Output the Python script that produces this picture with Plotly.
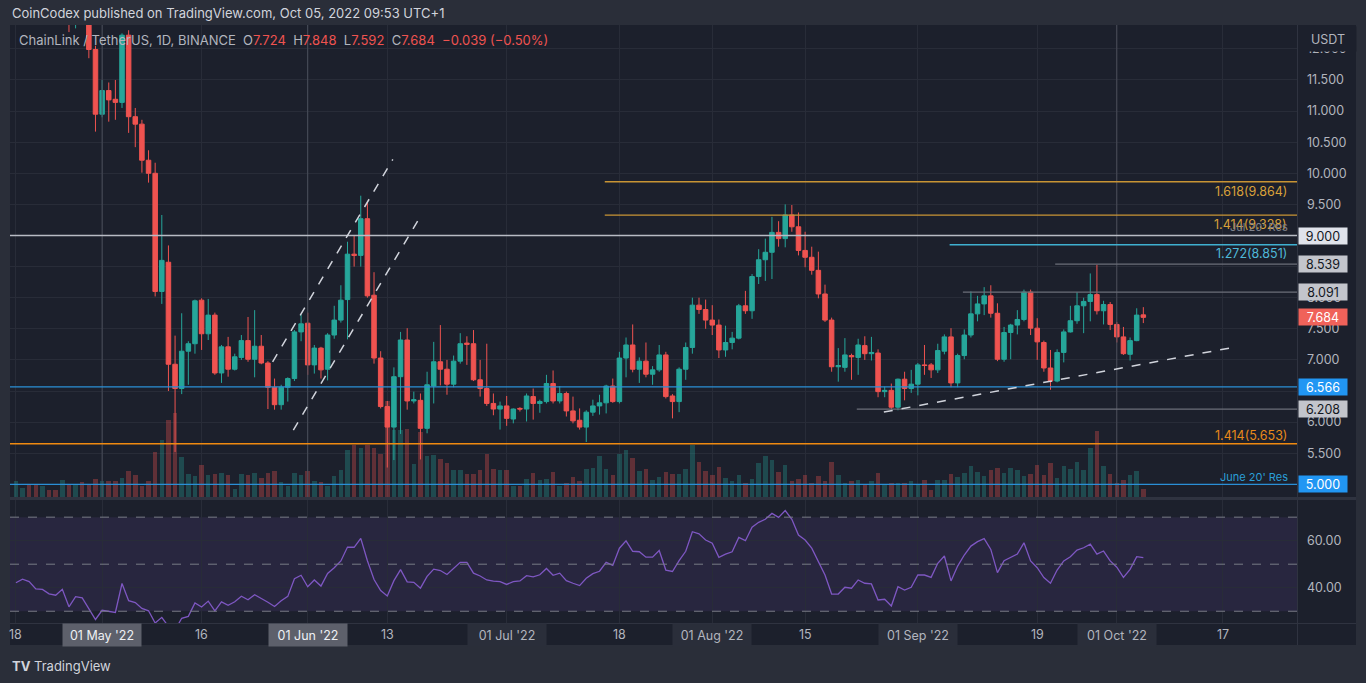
import pandas as pd
import plotly.graph_objects as go

# ---------------- data (LINK/USDT daily) ----------------
opens = [13.9, 14.2, 14.5, 14.1, 13.8, 13.9, 13.7, 13.5, 13.8, 12.6,
         12.9, 12.75, 11.99, 10.95, 11.33, 11.19, 11.14, 12.22, 10.91, 10.79,
         10.21, 10.0, 8.10, 8.57, 6.93, 6.54, 7.14, 7.26, 7.96, 7.42,
         7.72, 6.79, 7.21, 6.85, 7.04, 7.31, 7.01, 7.22, 6.95, 6.56,
         6.28, 6.56, 6.70, 7.45, 7.59, 6.92, 7.19, 6.85, 7.40, 7.64,
         7.97, 8.70, 8.68, 9.27, 8.04, 7.03, 6.25, 5.92, 6.73, 7.32,
         6.34, 6.35, 5.90, 6.58, 6.97, 6.85, 6.61, 6.98, 7.27, 7.26,
         6.68, 6.54, 6.30, 6.21, 6.26, 6.05, 6.22, 6.21, 6.41, 6.30,
         6.33, 6.62, 6.34, 6.46, 6.18, 6.03, 5.92, 6.16, 6.26, 6.31,
         6.58, 6.33, 7.03, 7.24, 6.85, 6.98, 6.77, 6.84, 7.08, 6.42,
         6.33, 6.85, 7.20, 7.88, 7.81, 7.64, 7.56, 7.16, 7.28, 7.35,
         7.87, 7.79, 8.34, 8.61, 8.73, 9.05, 8.95, 9.33, 9.14, 8.76,
         8.65, 8.44, 8.06, 7.64, 6.89, 6.88, 7.07, 7.04, 7.23, 7.10,
         7.11, 6.49, 6.51, 6.24, 6.69, 6.54, 6.61, 6.92, 6.92, 6.84,
         7.14, 7.37, 6.63, 7.07, 7.40, 7.74, 7.90, 8.03, 7.75, 7.01,
         7.44, 7.56, 7.65, 8.09, 7.51, 7.28, 6.87, 6.66, 7.12, 7.45,
         7.63, 7.87, 7.94, 8.05, 7.79, 7.89, 7.57, 7.37, 7.09, 7.31,
         7.724]
highs = [14.35, 14.7, 14.9, 14.8, 14.1, 14.0, 13.9, 13.9, 14.0, 13.1,
         13.3, 12.9, 12.05, 11.5, 11.46, 11.5, 12.25, 12.3, 11.05, 10.86,
         10.37, 10.17, 9.33, 8.84, 7.39, 7.75, 7.3, 7.97, 7.99, 7.98,
         7.76, 7.24, 7.37, 7.1, 7.4, 7.69, 7.8, 7.4, 6.98, 6.70,
         6.6, 6.72, 7.48, 7.73, 7.76, 7.24, 7.21, 7.43, 7.87, 8.2,
         8.9, 9.0, 9.64, 9.53, 8.41, 7.14, 6.34, 6.88, 7.45, 7.51,
         6.49, 6.46, 6.81, 7.29, 7.56, 7.0, 7.07, 7.43, 7.38, 7.48,
         7.0, 7.26, 6.46, 6.33, 6.42, 6.22, 6.24, 6.46, 6.54, 6.36,
         6.76, 6.83, 6.58, 6.49, 6.41, 6.22, 6.19, 6.36, 6.44, 6.60,
         6.70, 7.13, 7.36, 7.57, 7.04, 7.28, 6.90, 7.24, 7.13, 6.45,
         6.88, 7.28, 8.0, 8.0, 7.97, 7.88, 7.65, 7.55, 7.45, 7.90,
         8.11, 8.38, 8.78, 8.95, 9.30, 9.23, 9.50, 9.49, 9.37, 9.06,
         8.82, 8.74, 8.21, 7.68, 7.19, 7.35, 7.10, 7.34, 7.38, 7.37,
         7.17, 6.57, 6.62, 6.70, 6.81, 6.84, 6.95, 7.24, 6.95, 7.26,
         7.41, 7.51, 7.10, 7.49, 8.10, 8.03, 8.17, 8.20, 7.91, 7.53,
         7.58, 7.80, 8.13, 8.13, 7.67, 7.31, 7.16, 7.17, 7.49, 7.87,
         8.09, 8.00, 8.39, 8.53, 7.95, 7.93, 7.61, 7.53, 7.36, 7.83,
         7.848]
lows = [13.3, 14.0, 13.9, 13.6, 13.4, 13.5, 13.3, 12.9, 12.27, 12.33,
        12.5, 11.85, 10.67, 10.9, 10.83, 10.86, 11.05, 10.65, 10.42, 10.01,
        9.85, 8.02, 7.90, 6.5, 5.52, 6.45, 6.6, 7.1, 7.16, 7.32,
        6.76, 6.63, 6.73, 6.83, 7.0, 6.97, 6.72, 6.93, 6.21, 6.20,
        6.2, 6.33, 6.66, 7.3, 6.76, 6.78, 6.7, 6.67, 7.34, 7.6,
        7.33, 8.5, 8.5, 8.0, 6.94, 6.22, 5.27, 5.39, 5.81, 6.2,
        6.30, 5.4, 5.82, 6.30, 6.59, 6.44, 6.56, 6.94, 6.92, 6.66,
        6.41, 6.26, 6.11, 5.88, 5.94, 5.98, 6.17, 6.01, 6.04, 6.15,
        6.30, 6.30, 6.30, 6.09, 5.98, 5.88, 5.68, 6.10, 6.12, 6.14,
        6.31, 6.30, 6.72, 6.80, 6.63, 6.72, 6.60, 6.81, 6.38, 6.06,
        6.16, 6.68, 7.10, 7.74, 7.50, 7.40, 7.03, 7.05, 7.17, 7.33,
        7.74, 7.66, 8.22, 8.27, 8.30, 8.82, 8.81, 9.06, 8.68, 8.49,
        8.37, 7.99, 7.61, 6.81, 6.65, 6.81, 6.68, 6.76, 7.00, 6.99,
        6.40, 6.40, 6.20, 6.19, 6.35, 6.47, 6.43, 6.76, 6.71, 6.79,
        7.09, 6.56, 6.56, 7.01, 7.36, 7.62, 7.72, 7.68, 6.98, 6.97,
        7.01, 7.41, 7.62, 7.40, 7.00, 6.81, 6.52, 6.64, 6.96, 7.44,
        7.58, 7.43, 7.62, 7.73, 7.57, 7.48, 7.28, 7.08, 6.99, 7.30,
        7.592]
closes = [14.2, 14.5, 14.1, 13.8, 13.9, 13.7, 13.5, 13.8, 12.6, 12.9,
          12.75, 11.99, 10.95, 11.33, 11.18, 11.14, 12.22, 10.91, 10.79, 10.21,
          10.0, 8.10, 8.60, 6.93, 6.54, 7.14, 7.26, 7.95, 7.42, 7.72,
          6.79, 7.21, 6.85, 7.05, 7.31, 7.01, 7.22, 6.95, 6.56, 6.28,
          6.56, 6.70, 7.45, 7.58, 6.92, 7.19, 6.84, 7.40, 7.64, 7.96,
          8.70, 8.68, 9.27, 8.03, 7.03, 6.25, 5.92, 6.73, 7.32, 6.34,
          6.36, 5.90, 6.60, 6.97, 6.85, 6.61, 6.98, 7.26, 7.25, 6.68,
          6.54, 6.30, 6.21, 6.26, 6.06, 6.21, 6.21, 6.42, 6.30, 6.33,
          6.62, 6.34, 6.46, 6.18, 6.02, 5.92, 6.16, 6.26, 6.31, 6.58,
          6.33, 7.03, 7.24, 6.85, 6.98, 6.77, 6.84, 7.08, 6.41, 6.33,
          6.85, 7.20, 7.88, 7.81, 7.64, 7.56, 7.16, 7.28, 7.35, 7.87,
          7.79, 8.34, 8.61, 8.73, 9.05, 8.95, 9.33, 9.14, 8.76, 8.65,
          8.44, 8.06, 7.64, 6.89, 6.91, 7.08, 7.05, 7.24, 7.10, 7.12,
          6.49, 6.51, 6.24, 6.69, 6.54, 6.61, 6.92, 6.91, 6.84, 7.15,
          7.37, 6.63, 7.07, 7.40, 7.74, 7.90, 8.03, 7.75, 7.01, 7.44,
          7.56, 7.65, 8.09, 7.51, 7.29, 6.87, 6.66, 7.12, 7.45, 7.63,
          7.87, 7.94, 8.05, 7.79, 7.89, 7.57, 7.37, 7.10, 7.31, 7.72,
          7.684]
volume = [16, 9, 13.3, 12.3, 10.7, 6.7, 7.3, 16.7, 13.3, 13.3,
          15, 12.3, 17.7, 16, 15.7, 15.7, 19.3, 26, 21.7, 11,
          16, 45, 57.3, 76.7, 84, 40, 23.3, 20.7, 31.7, 21.7,
          22.7, 24, 21.7, 8.3, 22.7, 21.7, 24.3, 19.3, 24.3, 26,
          15, 11, 24.3, 21.7, 26, 15.7, 15, 11, 21, 27.3,
          46.7, 51.7, 49, 51.7, 49, 43.3, 96, 67, 66.7, 68.3,
          32.7, 65, 40.7, 41.7, 38.3, 34.3, 27.3, 26.7, 23.3, 22.7,
          26.7, 43.3, 28.3, 27.3, 26.7, 10.7, 10.7, 18.3, 24, 16.7,
          18.3, 25, 10.7, 14, 20, 15.7, 27.7, 29, 40.7, 27.7,
          21.7, 42.7, 47.3, 39.3, 25.7, 28.3, 17.3, 20, 25, 22.7,
          22.7, 27.7, 52, 35, 26, 22, 30, 19, 16, 22,
          14, 18, 34, 41, 37, 25, 32, 16, 18, 22,
          14, 21, 16, 35, 21.7, 14.3, 15.7, 17.3, 11.7, 16,
          24.3, 13.3, 14, 14.3, 14.3, 16, 13.3, 16.7, 7.3, 16.7,
          16.7, 23.3, 20, 24, 30.7, 25, 20.7, 26.7, 29.3, 24,
          29, 27.3, 20.7, 22.7, 32.3, 21.7, 34, 18.7, 31.3, 28.3,
          35, 26.7, 49, 65.7, 31.3, 22.7, 14, 17.3, 21.7, 26,
          8.3]
rsi = [42.1, 43.6, 42.6, 39.5, 39.3, 37.4, 36.8, 39.3, 31.9, 36.2,
       35.7, 31.3, 26.5, 30.4, 30.0, 29.5, 41.8, 34.5, 33.7, 31.2,
       30.2, 25.0, 27.4, 23.5, 22.0, 27.0, 27.8, 33.5, 31.8, 34.3,
       30.2, 34.0, 32.5, 34.0, 36.4, 34.9, 37.0, 35.5, 33.8, 32.0,
       34.5, 36.3, 43.8, 45.3, 40.4, 43.3, 40.7, 46.1, 48.5, 51.4,
       57.3, 57.2, 61.0, 51.5, 43.5, 38.8, 36.5, 43.0, 47.7, 42.5,
       42.3, 39.8, 44.8, 47.9, 47.3, 45.6, 48.3, 50.8, 50.8, 46.2,
       45.0, 43.3, 42.8, 42.6, 41.4, 42.6, 42.9, 45.1, 44.6, 45.5,
       48.2, 45.3, 46.2, 43.0, 41.9, 40.9, 44.0, 46.0, 47.0, 50.8,
       49.5, 56.8, 59.9, 55.5, 55.3, 53.0, 53.0, 55.8, 47.5, 46.9,
       51.5, 55.5, 63.8, 62.9, 60.3, 58.9, 52.9, 54.3, 55.3, 61.4,
       60.0, 65.7, 67.8, 69.1, 71.6, 69.9, 72.8, 69.1, 62.4, 60.3,
       56.8, 51.1, 45.4, 37.3, 37.3, 40.2, 39.8, 43.3, 41.9, 41.6,
       34.8, 35.1, 32.2, 40.4, 39.0, 40.2, 45.4, 45.4, 44.4, 50.4,
       53.5, 42.9, 49.2, 53.9, 57.7, 59.6, 60.9, 56.3, 46.4, 51.5,
       52.9, 54.3, 59.1, 51.4, 48.5, 44.3, 41.9, 47.5, 51.4, 53.2,
       56.0, 57.0, 58.5, 54.3, 55.6, 51.4, 48.7, 44.4, 47.8, 53.2,
       52.8]
assert len(opens) == len(highs) == len(lows) == len(closes) == len(volume) == len(rsi) == 171

dates = pd.date_range("2022-04-18", periods=len(closes), freq="D")

tick_dates = ["2022-04-18", "2022-05-01", "2022-05-16", "2022-06-01", "2022-06-13",
              "2022-07-01", "2022-07-18", "2022-08-01", "2022-08-15", "2022-09-01",
              "2022-09-19", "2022-10-01", "2022-10-17"]
tick_text = ["18", "01 May '22", "16", "01 Jun '22", "13", "01 Jul '22", "18",
             "01 Aug '22", "15", "01 Sep '22", "19", "01 Oct '22", "17"]
price_ticks = [5.0, 5.5, 6.0, 6.5, 7.0, 7.5, 8.0, 8.5, 9.0, 9.5, 10.0, 10.5, 11.0, 11.5, 12.0]
rsi_ticks = [40, 60]

# drawn levels
fib_levels = [9.864, 9.328, 8.851, 5.653]
fib_labels = ["1.618(9.864)", "1.414(9.328)", "1.272(8.851)", "1.414(5.653)"]
sr_levels = [9.000, 8.539, 8.091, 6.566, 6.208, 5.000]
last_price = 7.684

# ---------------- layout helpers ----------------
W, H = 1366, 683
BG_OUT = "#2a2e39"
BG_PANE = "#1c202c"
GRID = "#282c38"
TXT = "#b2b5be"
UP, DOWN = "#26a69a", "#ef5350"
FONT = "Inter"

def fx(px):
    return px / W

def fy(py):
    return 1 - py / H

day0 = pd.Timestamp("2022-04-18")
PX0, PXD = 15.9, 6.632

def xd(px):
    return day0 + pd.Timedelta(days=(px - PX0) / PXD)

x_range = [xd(10), xd(1297)]
p_range = [4.796, 12.384]
r_range = [25.0, 77.3]

fig = go.Figure()

vol_colors = ["rgba(38,166,154,0.32)" if c >= o else "rgba(239,83,80,0.32)"
              for o, c in zip(opens, closes)]
fig.add_trace(go.Bar(x=dates, y=volume, marker_color=vol_colors, marker_line_width=0,
                     width=0.68 * 86400000, yaxis="y3", xaxis="x", hoverinfo="skip"))
fig.add_trace(go.Candlestick(x=dates, open=opens, high=highs, low=lows, close=closes,
                             increasing=dict(line=dict(color=UP, width=1), fillcolor=UP),
                             decreasing=dict(line=dict(color=DOWN, width=1), fillcolor=DOWN),
                             whiskerwidth=0, xaxis="x", yaxis="y", hoverinfo="skip"))
fig.add_trace(go.Scatter(x=dates, y=rsi, mode="lines", line=dict(color="#7e57c2", width=1.3),
                         xaxis="x2", yaxis="y2", hoverinfo="skip"))

shapes = []
# pane background
shapes.append(dict(type="rect", xref="paper", yref="paper", x0=fx(10), x1=fx(1356),
                   y0=fy(645), y1=fy(25), fillcolor=BG_PANE, line_width=0, layer="below"))
# RSI band and dashed levels
shapes.append(dict(type="rect", xref="x2 domain", yref="y2", x0=0, x1=1, y0=30, y1=70,
                   fillcolor="rgba(126,87,194,0.13)", line_width=0, layer="below"))
for lv in (70, 50, 30):
    shapes.append(dict(type="line", xref="x2 domain", yref="y2", x0=0, x1=1, y0=lv, y1=lv,
                       line=dict(color="#787b86", width=1, dash="dash")))
# separators
shapes.append(dict(type="line", xref="paper", yref="paper", x0=fx(10), x1=fx(1356),
                   y0=fy(498.5), y1=fy(498.5), line=dict(color="#2f3340", width=3)))
shapes.append(dict(type="line", xref="paper", yref="paper", x0=fx(10), x1=fx(1356),
                   y0=fy(623.5), y1=fy(623.5), line=dict(color="#2f3340", width=1)))
shapes.append(dict(type="line", xref="paper", yref="paper", x0=fx(1297.5), x1=fx(1297.5),
                   y0=fy(645), y1=fy(25), line=dict(color="#2f3340", width=1)))
# brighter vertical marks
for d in ("2022-05-01", "2022-06-01", "2022-10-01"):
    shapes.append(dict(type="line", xref="x", yref="y domain", x0=d, x1=d, y0=0, y1=1,
                       line=dict(color="#4a4e5b", width=1)))

# horizontal levels
xe = x_range[1]
lvl_style = [
    (9.864, "2022-07-15 19:00", "#c89434", 1.3),
    (9.328, "2022-07-15 19:00", "#c89434", 1.3),
    (9.000, x_range[0], "#b8bbc4", 1.6),
    (8.851, "2022-09-05 19:00", "#3fb0d0", 1.3),
    (8.539, "2022-09-21 17:00", "#6b6e79", 1.3),
    (8.091, "2022-09-07 19:00", "#6b6e79", 1.3),
    (6.566, x_range[0], "#2a8fd6", 1.3),
    (6.208, "2022-08-22 19:00", "#6b6e79", 1.3),
    (5.653, x_range[0], "#f08a10", 1.4),
    (5.000, x_range[0], "#2a8fd6", 1.3),
]
for lv, x0, col, w in lvl_style:
    shapes.append(dict(type="line", xref="x", yref="y", x0=x0, x1=xe, y0=lv, y1=lv,
                       line=dict(color=col, width=w)))

# dashed trend lines (channel + rising support)
trend = [
    ("2022-05-26 17:00", 6.97, "2022-06-13 20:00", 10.225),
    ("2022-05-29 20:00", 5.873, "2022-06-17 20:00", 9.277),
    ("2022-08-26 21:00", 6.162, "2022-10-18 01:00", 7.191),
]
for x0, y0, x1, y1 in trend:
    shapes.append(dict(type="line", xref="x", yref="y", x0=x0, y0=y0, x1=x1, y1=y1,
                       line=dict(color="#d1d4dc", width=1.5, dash="dash")))

ann = []
def text(px, py, s, color=TXT, size=12.5, xanchor="left", **kw):
    ann.append(dict(xref="paper", yref="paper", x=fx(px), y=fy(py), text=s, showarrow=False,
                    xanchor=xanchor, yanchor="middle", font=dict(family=FONT, size=size, color=color), **kw))

text(10, 13, "CoinCodex published on TradingView.com, Oct 05, 2022 09:53 UTC+1", color="#d1d4dc", size=13)
R = DOWN
legend = ("ChainLink / TetherUS, 1D, BINANCE&nbsp; O<span style='color:%s'>7.724</span>&nbsp; "
          "H<span style='color:%s'>7.848</span>&nbsp; L<span style='color:%s'>7.592</span>&nbsp; "
          "C<span style='color:%s'>7.684</span>&nbsp; <span style='color:%s'>−0.039 (−0.50%%)</span>") % (R, R, R, R, R)
text(17, 40, legend, color=TXT, size=13)
# USDT header (covers top tick)
ann.append(dict(xref="paper", yref="paper", x=fx(1299), y=fy(26), text="USDT", showarrow=False,
                xanchor="left", yanchor="top", width=54, height=22, bgcolor=BG_PANE, align="center",
                font=dict(family=FONT, size=12.5, color=TXT)))

# right axis boxes
boxes = [(9.000, "#e0e3eb", "#131722"), (8.539, "#c3c5cc", "#131722"), (8.091, "#c3c5cc", "#131722"),
         (last_price, "#f0625a", "#ffffff"), (6.566, "#2196f3", "#ffffff"), (6.208, "#c3c5cc", "#131722"),
         (5.000, "#2196f3", "#ffffff")]
for lv, bg, fg in boxes:
    ann.append(dict(xref="paper", yref="y", x=fx(1298), y=lv, text="%.3f" % lv, showarrow=False,
                    xanchor="left", yanchor="middle", width=46, height=14, borderpad=1,
                    bgcolor=bg, align="center", font=dict(family=FONT, size=12.5, color=fg)))

# level captions
cap_pos = [(191, "#d9a03a"), (224, "#d9a03a"), (254, "#4fb8d8"), (435, "#e8891a")]
for (py, col), s in zip(cap_pos, fib_labels):
    text(1289, py, s, color=col, size=12.5, xanchor="right")
text(1290, 227, "Jul 20' Res", color="#7d808a", size=11, xanchor="right")
text(1290, 477, "June 20' Res", color="#2a9fd8", size=11, xanchor="right")

# time axis labels
light = {"01 May '22", "01 Jun '22"}
for d, s in zip(tick_dates, tick_text):
    kw = dict(xref="x2", yref="paper", x=d, y=fy(634.5), text=s, showarrow=False,
              xanchor="center", yanchor="middle", font=dict(family=FONT, size=12.5, color=TXT))
    if s in light:
        kw.update(bgcolor="#5d606b", width=74, height=18, borderpad=2,
                  font=dict(family=FONT, size=12.5, color="#eef0f4"))
    elif s.startswith("01"):
        kw.update(bgcolor="#2a2e3a", width=74, height=18, borderpad=2)
    ann.append(kw)

# footer
text(10, 666, "<b>TV</b> TradingView", color="#d1d4dc", size=13)

axis_common = dict(showline=False, zeroline=False, ticks="", gridcolor=GRID, gridwidth=1)
fig.update_layout(
    width=W, height=H, margin=dict(l=0, r=0, t=0, b=0),
    paper_bgcolor=BG_OUT, plot_bgcolor="rgba(0,0,0,0)",
    showlegend=False, boxgap=0.15, boxgroupgap=0.2, bargap=0,
    font=dict(family=FONT, color=TXT),
    xaxis=dict(domain=[fx(10), fx(1297)], range=x_range, type="date", anchor="y",
               tickvals=tick_dates, showticklabels=False, rangeslider=dict(visible=False),
               **axis_common),
    yaxis=dict(domain=[fy(497), fy(25)], range=p_range, side="right", anchor="x",
               tickvals=price_ticks, tickformat=".3f", ticklabelstandoff=9,
               tickfont=dict(family=FONT, size=12.5, color=TXT), **axis_common),
    yaxis3=dict(overlaying="y", range=[0, 472], visible=False, anchor="x"),
    xaxis2=dict(domain=[fx(10), fx(1297)], range=x_range, type="date", anchor="y2",
                tickvals=tick_dates, showticklabels=False, matches="x", **axis_common),
    yaxis2=dict(domain=[fy(623), fy(500)], range=r_range, side="right", anchor="x2",
                tickvals=rsi_ticks, tickformat=".2f", ticklabelstandoff=9,
                tickfont=dict(family=FONT, size=12.5, color=TXT), **axis_common),
    shapes=shapes, annotations=ann,
)

fig.write_html("out.html", config={"displayModeBar": False},
               post_script="document.body.style.margin='0';")
